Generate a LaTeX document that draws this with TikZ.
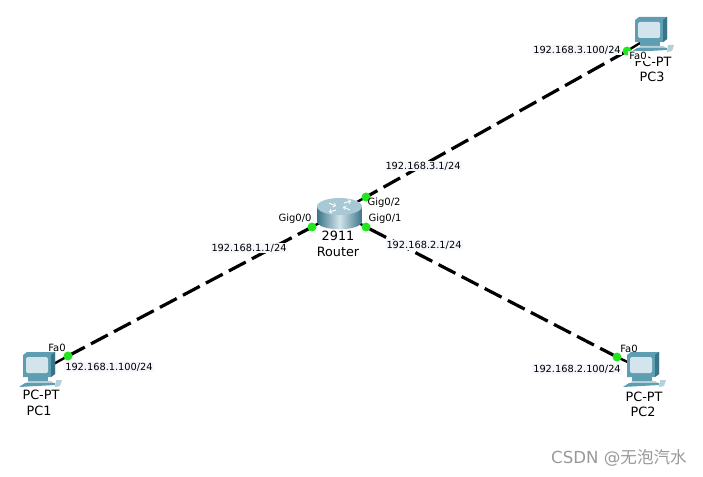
\documentclass[tikz,border=0pt]{standalone}
\usepackage{fontspec}
\setmainfont{DejaVu Sans}
\newfontfamily\cjk{Noto Sans CJK SC}
\definecolor{pcteal}{HTML}{5E9DB2}
\definecolor{pcdark}{HTML}{3A7488}
\definecolor{pcscreen}{HTML}{D3E4EC}
\definecolor{pclight}{HTML}{B4D0DA}
\definecolor{labelbg}{HTML}{F5F7FD}
\definecolor{portgreen}{HTML}{22E61E}
\tikzset{
	link/.style={line width=3.2pt, dash pattern=on 19pt off 7pt},
	stub/.style={line width=2.4pt},
	portdot/.style={circle, fill=portgreen, inner sep=0pt, minimum size=9pt},
	devname/.style={font=\fontsize{12.8}{14}\selectfont, inner sep=0pt, align=center},
	portname/.style={font=\fontsize{10}{11}\selectfont, inner sep=1pt},
	iplabel/.style={font=\fontsize{9.8}{11}\selectfont, fill=labelbg, inner sep=1pt},
	pics/pcicon/.style={code={
		% monitor
		\fill[pcteal] (0,3) -- (4,0) -- (32,0) -- (32,22) -- (28,25) -- (0,25) -- cycle;
		\fill[pcdark] (28,3) -- (32,0) -- (32,22) -- (28,25) -- cycle;
		\fill[pcscreen, rounded corners=1.5pt] (3,5) rectangle (25,21);
		% base
		\fill[pcteal] (5,25) rectangle (25,29);
		\fill[pclight] (6,29) -- (28,29) -- (31,31) -- (3,31) -- cycle;
		% keyboard
		\fill[pcteal] (2,31) -- (32,31) -- (32,33) -- (-4,35) -- cycle;
		\fill[pclight] (33,28) -- (39,28) -- (37,34) -- (32,35) -- cycle;
	}}
}
\begin{document}
\begin{tikzpicture}[x=1pt, y=-1pt]
	\useasboundingbox (0,0) rectangle (703,476);
	% punti di collegamento
	\coordinate (pc1) at (48,367);
	\coordinate (pc2) at (636,366);
	\coordinate (pc3) at (640,43);
	\coordinate (r0) at (312,227);
	\coordinate (r1) at (366,227);
	\coordinate (r2) at (366,197);
	\coordinate (router) at (339,212);
	\coordinate (p1) at (68,356);
	\coordinate (p2) at (617,357);
	\coordinate (p3) at (627,51);
	% link
	\draw[stub] (pc1) -- (p1);
	\draw[stub] (pc2) -- (p2);
	\draw[stub] (pc3) -- (p3);
	\draw[stub] (router) -- (r0);
	\draw[stub] (router) -- (r1);
	\draw[stub] (router) -- (r2);
	\draw[link] (p1) -- (r0);
	\draw[link] (p2) -- (r1);
	\draw[link] (p3) -- (r2);
	% pc
	\pic at (23,352) {pcicon};
	\pic at (627,352) {pcicon};
	\pic at (635,17) {pcicon};
	% router
	\shade[left color=pcdark, right color=pcdark, middle color=pcscreen]
		(317,206) -- (317,221) .. controls (317,232) and (362,232) .. (362,221) -- (362,206) -- cycle;
	\fill[pclight!85!pcteal] (339.5,206.5) ellipse [x radius=22.5, y radius=8.5];
	\draw[white, line width=0.9pt, ->] (329,203) -- (336,206);
	\draw[white, line width=0.9pt, ->] (350,210) -- (343,207);
	\draw[white, line width=0.9pt, ->] (336,210) -- (329,212);
	\draw[white, line width=0.9pt, ->] (344,203) -- (351,201);
	% porte
	\foreach \port in {p1, p2, p3, r0, r1, r2}
		\node[portdot] (dot\port) at (\port) {};
	% testi
	\node[devname] (pc1type) at (41,395) {PC-PT};
	\node[devname] (pc1name) at (39,411) {PC1};
	\node[devname] (pc2type) at (644,397) {PC-PT};
	\node[devname] (pc2name) at (643,412) {PC2};
	\node[devname] (pc3type) at (653,62) {PC-PT};
	\node[devname] (pc3name) at (652,77) {PC3};
	\node[devname] (routertype) at (338,236) {2911};
	\node[devname] (routername) at (338,252) {Router};
	\node[portname] (fa1) at (57,348) {Fa0};
	\node[portname] (fa2) at (629,349) {Fa0};
	\node[portname, fill=white] (fa3) at (638,56) {Fa0};
	\node[portname] (gig0) at (295,219) {Gig0/0};
	\node[portname] (gig1) at (385,219) {Gig0/1};
	\node[portname] (gig2) at (384,203) {Gig0/2};
	\node[iplabel] (ip1) at (109,367) {192.168.1.100/24};
	\node[iplabel] (ip2) at (577,369) {192.168.2.100/24};
	\node[iplabel] (ip3) at (577,50) {192.168.3.100/24};
	\node[iplabel] (gw1) at (249,248) {192.168.1.1/24};
	\node[iplabel] (gw2) at (424,245) {192.168.2.1/24};
	\node[iplabel] (gw3) at (423,166) {192.168.3.1/24};
	% watermark
	\node[font=\fontsize{16.6}{20}\selectfont, text=black!40, inner sep=0pt] (mark) at (619,458) {CSDN @{\cjk 无泡汽水}};
\end{tikzpicture}
\end{document}
